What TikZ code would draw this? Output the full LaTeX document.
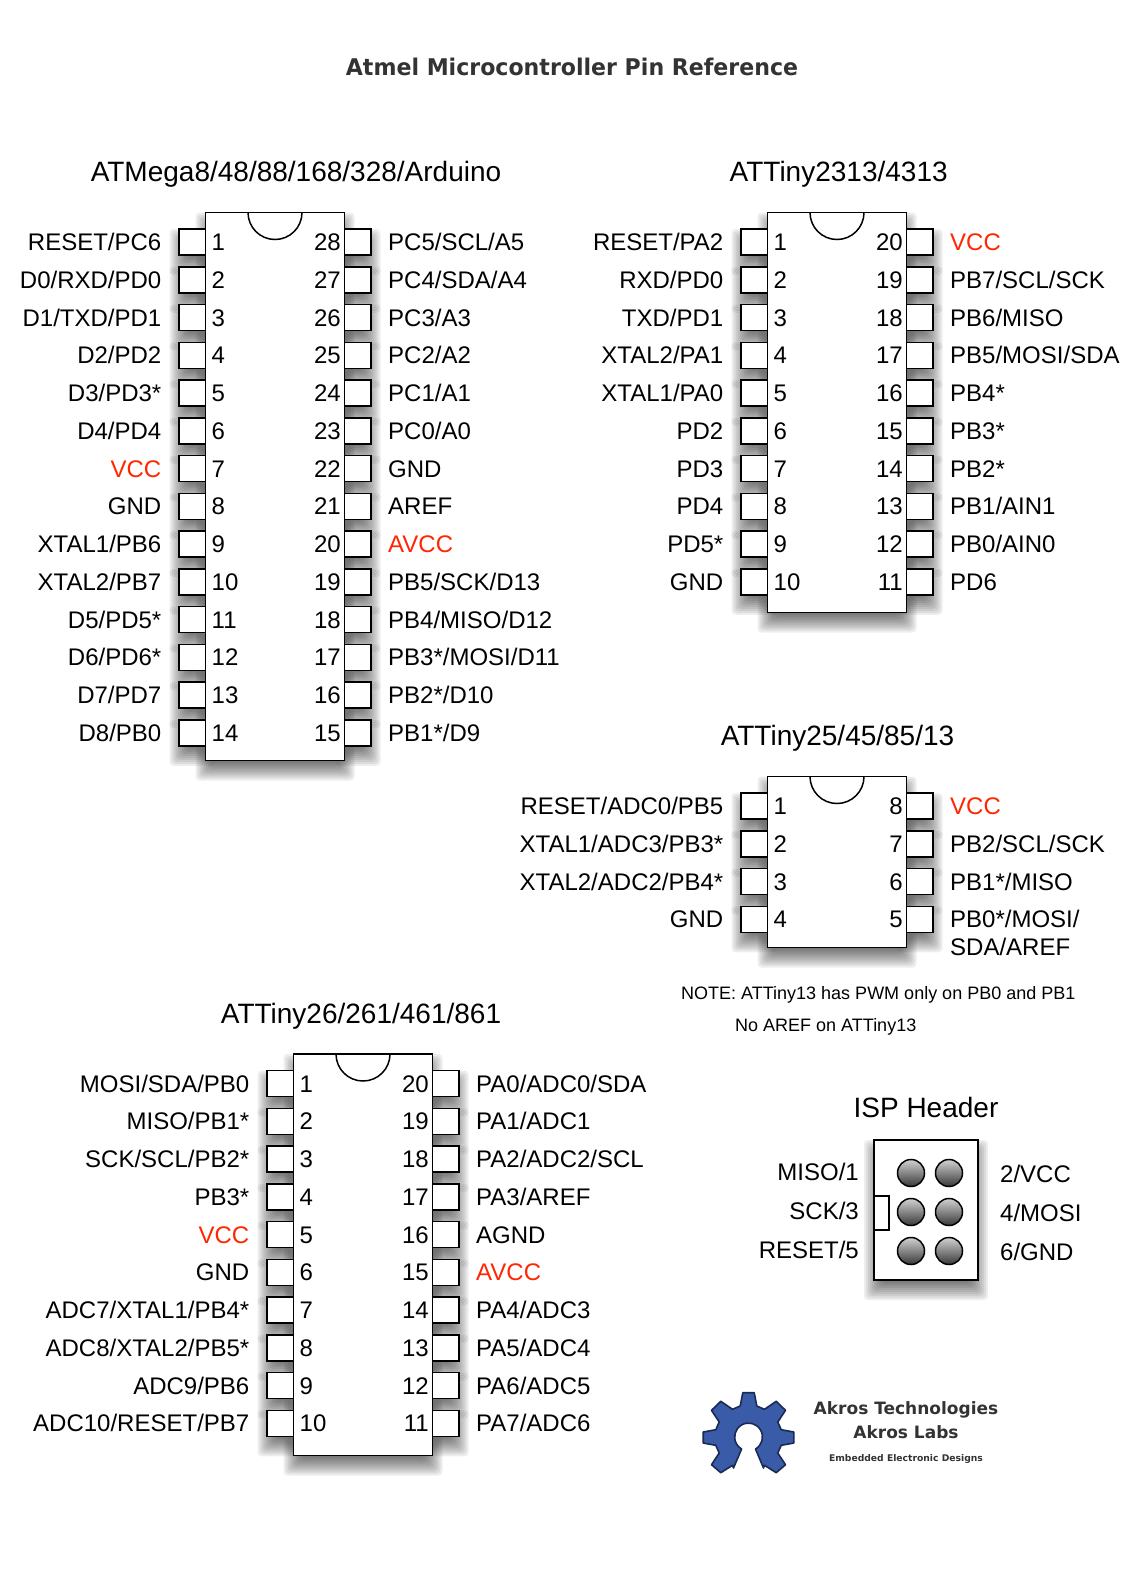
\documentclass[tikz,border=0pt]{standalone}
\usepackage{fontspec}
\setmainfont{Liberation Sans}
\newfontfamily\logofont{DejaVu Sans}
\definecolor{pinred}{RGB}{255,38,0}
\definecolor{logogray}{RGB}{51,51,51}
\definecolor{gearblue}{RGB}{58,92,168}
\definecolor{gearnavy}{RGB}{26,42,84}
\tikzset{
    softlayer/.style={fill=black,fill opacity=.07,rounded corners=4},
    pinbox/.style={draw,line width=1.5,fill=white,inner sep=0,outer sep=0,minimum width=26.5,minimum height=26},
    chipbody/.style={draw,line width=1.5,fill=white,inner sep=0,outer sep=0,minimum width=139,anchor=north west},
    pinlabel/.style={inner sep=0,text height=17,text depth=0,font=\fontsize{24}{28}\selectfont},
    chiptitle/.style={inner sep=0,font=\fontsize{28}{32}\selectfont},
    notetext/.style={inner sep=0,anchor=west,font=\fontsize{18}{22}\selectfont},
    ispdot/.style={circle,draw,line width=1.5,inner sep=0,minimum size=27,top color=black!18,bottom color=black!78},
    logotext/.style={inner sep=0,text=logogray}
}
\newcommand{\softshadow}[4]{
    \foreach \s in {-8,-6,-4,-2,0,2,4,6,8,10}
        {
            \fill[softlayer]({#1-\s},{#2+10-\s}) rectangle ({#3+\s},{#4+10+\s});
        }
}
\begin{document}
\begin{tikzpicture}[x=1pt,y=-1pt]
    \useasboundingbox(0,0) rectangle (1140,1572);
    \node[logotext,font=\logofont\bfseries\fontsize{23}{26}\selectfont,transform shape,xscale=.96](maintitle) at (572,67) {Atmel Microcontroller Pin Reference};
    \foreach \cname/\tx/\ty/\ttext in {
            megatitle/296/174.5/{ATMega8/48/88/168/328/Arduino},
            twotitle/838.7/174.5/{ATTiny2313/4313},
            fivetitle/837.5/738.5/{ATTiny25/45/85/13},
            sixtitle/361/1016.5/{ATTiny26/261/461/861},
            isptitle/926/1107/{ISP Header}}
        {
            \node[chiptitle](\cname) at (\tx,\ty) {\ttext};
        }
    \foreach \cname/\cx/\cy/\ch/\cn/\lpins/\rpins in {
            mega/205.5/212.5/548/14/{RESET/PC6,D0/RXD/PD0,D1/TXD/PD1,D2/PD2,D3/PD3*,D4/PD4,\textcolor{pinred}{VCC},GND,XTAL1/PB6,XTAL2/PB7,D5/PD5*,D6/PD6*,D7/PD7,D8/PB0}/{PC5/SCL/A5,PC4/SDA/A4,PC3/A3,PC2/A2,PC1/A1,PC0/A0,GND,AREF,\textcolor{pinred}{AVCC},PB5/SCK/D13,PB4/MISO/D12,PB3*/MOSI/D11,PB2*/D10,PB1*/D9},
            two/767.5/212.5/400/10/{RESET/PA2,RXD/PD0,TXD/PD1,XTAL2/PA1,XTAL1/PA0,PD2,PD3,PD4,PD5*,GND}/{\textcolor{pinred}{VCC},PB7/SCL/SCK,PB6/MISO,PB5/MOSI/SDA,PB4*,PB3*,PB2*,PB1/AIN1,PB0/AIN0,PD6},
            five/767.5/776.5/171/4/{RESET/ADC0/PB5,XTAL1/ADC3/PB3*,XTAL2/ADC2/PB4*,GND}/{\textcolor{pinred}{VCC},PB2/SCL/SCK,PB1*/MISO,PB0*/MOSI/},
            six/293.5/1054/401.5/10/{MOSI/SDA/PB0,MISO/PB1*,SCK/SCL/PB2*,PB3*,\textcolor{pinred}{VCC},GND,ADC7/XTAL1/PB4*,ADC8/XTAL2/PB5*,ADC9/PB6,ADC10/RESET/PB7}/{PA0/ADC0/SDA,PA1/ADC1,PA2/ADC2/SCL,PA3/AREF,AGND,\textcolor{pinred}{AVCC},PA4/ADC3,PA5/ADC4,PA6/ADC5,PA7/ADC6}}
        {
            \begin{scope}[shift={(\cx,\cy)}]
                \softshadow{0}{0}{139}{\ch}
                \foreach \i in {1,...,\cn}
                    {
                        \pgfmathsetmacro{\py}{29.5+(\i-1)*37.75}
                        \softshadow{-26}{\py-13}{0}{\py+13}
                        \softshadow{139}{\py-13}{165}{\py+13}
                    }
                \foreach \ltext [count=\i] in \lpins
                    {
                        \pgfmathsetmacro{\py}{29.5+(\i-1)*37.75}
                        \node[pinbox,anchor=east](\cname-lb\i) at (0,\py) {};
                        \node[pinlabel,anchor=east](\cname-ll\i) at (-44,\py) {\ltext};
                    }
                \foreach \rtext [count=\i] in \rpins
                    {
                        \pgfmathsetmacro{\py}{29.5+(\i-1)*37.75}
                        \node[pinbox,anchor=west](\cname-rb\i) at (139,\py) {};
                        \node[pinlabel,anchor=west](\cname-rl\i) at (182.5,\py) {\rtext};
                    }
                \node[chipbody,minimum height=\ch](\cname) at (0,0) {};
                \draw[line width=1.5](42.5,0) arc[start angle=180,end angle=360,radius=27pt];
                \foreach \i in {1,...,\cn}
                    {
                        \pgfmathsetmacro{\py}{29.5+(\i-1)*37.75}
                        \pgfmathtruncatemacro{\rn}{2*\cn+1-\i}
                        \node[pinlabel,anchor=west](\cname-ln\i) at (6,\py) {\i};
                        \node[pinlabel,anchor=east](\cname-rn\i) at (135.5,\py) {\rn};
                    }
            \end{scope}
        }
    \node[pinlabel,anchor=west](five-rl4b) at (950,947) {SDA/AREF};
    \node[notetext](notea) at (681,995) {NOTE: ATTiny13 has PWM only on PB0 and PB1};
    \node[notetext](noteb) at (735,1027) {No AREF on ATTiny13};
    \softshadow{874}{1140}{978}{1280}
    \node[draw,line width=1.5,fill=white,inner sep=0,outer sep=0,minimum width=104,minimum height=140,anchor=north west](isp) at (874,1140) {};
    \node[draw,line width=1.5,fill=white,inner sep=0,outer sep=0,minimum width=15,minimum height=34,anchor=north west](ispnotch) at (874,1196) {};
    \foreach \n/\dx/\dy in {1/911/1173,2/949/1173,3/911/1212,4/949/1212,5/911/1251,6/949/1251}
        {
            \node[ispdot](ispdot\n) at (\dx,\dy) {};
        }
    \foreach \n/\ly/\ltext in {1/1172/{MISO/1},3/1211/{SCK/3},5/1250/{RESET/5}}
        {
            \node[pinlabel,anchor=east](ispl\n) at (859,\ly) {\ltext};
        }
    \foreach \n/\ly/\rtext in {2/1174/{2/VCC},4/1213/{4/MOSI},6/1252/{6/GND}}
        {
            \node[pinlabel,anchor=west](ispr\n) at (1000,\ly) {\rtext};
        }
    \begin{scope}[shift={(748.5,1437)}]
        \draw[fill=gearblue,draw=gearnavy,line width=1.6,line join=round](-5.7,-44.3)--(5.7,-44.3)--(8.3,-31)--(16,-27.7)--(27.7,-35.7)--(37,-26.7)--(29.3,-15)--(32.7,-7.3)--(45.3,-5)--(45.3,6)--(32.7,8.3)--(29.3,16)--(37,27.7)--(27.7,35.7)--(16,28.3)--(15,31)--(7,12) arc[start angle=-60,end angle=240,radius=13.9pt]--(-15,31)--(-16,28.3)--(-27.7,35.7)--(-37,27.7)--(-29.3,16)--(-32.7,8.3)--(-45.3,6)--(-45.3,-5)--(-32.7,-7.3)--(-29.3,-15)--(-37,-26.7)--(-27.7,-35.7)--(-16,-27.7)--(-8.3,-31)--cycle;
    \end{scope}
    \node[logotext,font=\logofont\bfseries\fontsize{17}{20}\selectfont](logoa) at (906,1410) {Akros Technologies};
    \node[logotext,font=\logofont\bfseries\fontsize{17}{20}\selectfont](logob) at (906,1432) {Akros Labs};
    \node[logotext,font=\logofont\bfseries\fontsize{9.2}{12}\selectfont](logoc) at (906,1459) {Embedded Electronic Designs};
\end{tikzpicture}
\end{document}
